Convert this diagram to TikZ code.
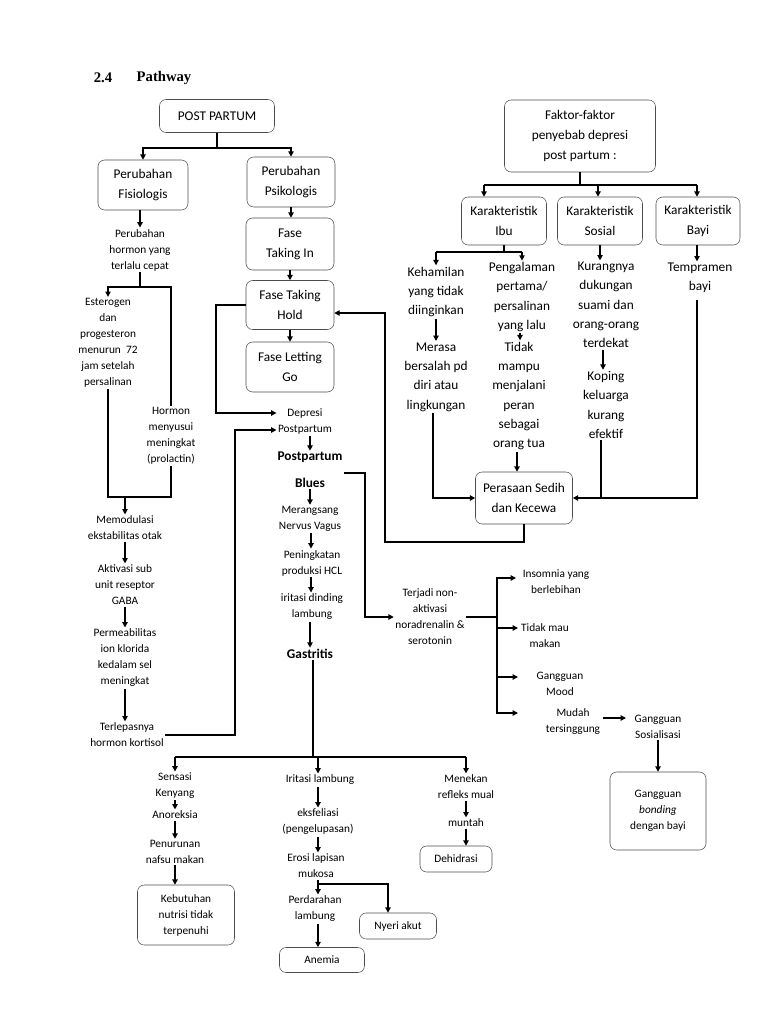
\documentclass[tikz,border=0pt]{standalone}
\usepackage{fontspec}
\setmainfont{Carlito}
\newfontfamily\tnr{Liberation Serif}
\usetikzlibrary{arrows.meta}
\begin{document}
\begin{tikzpicture}[x=0.75pt,y=-0.75pt,
  every node/.style={inner sep=1pt},
  box/.style={draw=black!70,rounded corners=5pt,align=center,font=\fontsize{10}{15}\selectfont},
  txt/.style={align=center,font=\fontsize{10}{14.5}\selectfont},
  sm/.style={align=center,font=\fontsize{8.5}{12}\selectfont},
  ln/.style={line width=0.9pt},
  ar/.style={line width=0.9pt,-{Triangle[length=4pt,width=4pt]}},
  vd/.style={ar,shorten >=1pt}]
\useasboundingbox (0,0) rectangle (768,1024);
\node[font=\tnr\bfseries\fontsize{11}{13}\selectfont] (t1) at (103,78) {2.4};
\node[font=\tnr\bfseries\fontsize{11}{13}\selectfont] (t2) at (164,78) {Pathway};
% left/top
\node[box,minimum width=115*0.75pt,minimum height=33*0.75pt] (pp) at (217,116) {POST PARTUM};
\node[box,minimum width=90*0.75pt,minimum height=50*0.75pt] (fis) at (143,185) {Perubahan\\Fisiologis};
\node[box,minimum width=88*0.75pt,minimum height=50*0.75pt] (psi) at (291,182) {Perubahan\\Psikologis};
\node[box,minimum width=88*0.75pt,minimum height=52*0.75pt] (tin) at (290,244) {Fase\\Taking In};
\node[box,minimum width=88*0.75pt,minimum height=49*0.75pt] (thold) at (290,305) {Fase Taking\\Hold};
\node[box,minimum width=88*0.75pt,minimum height=50*0.75pt] (tgo) at (290,367) {Fase Letting\\Go};
\coordinate (c1) at (217,148);
\draw[ln] (pp.south) -- (c1);
\draw[ar] (c1) -| (fis.north);
\draw[ar] (c1) -| (psi.north);
\draw[ar] (psi.south) -- (psi.south |- tin.north);
\draw[ar] (tin) -- (thold);
\draw[ar] (thold) -- (tgo);
\node[sm] (hor) at (140,250) {Perubahan\\hormon yang\\terlalu cepat};
\draw[ar] (140,210) -- (hor.north -| 140,0);
\node[sm] (est) at (108,343) {Esterogen\\dan\\progesteron\\menurun~ 72\\jam setelah\\persalinan};
\node[sm] (hm) at (171,436) {Hormon\\menyusui\\meningkat\\(prolactin)};
\coordinate (c2) at (140,287);
\draw[ln] (hor.south -| c2) -- (c2);
\draw[ar] (c2) -| (est.north);
\draw[ln] (c2) -| (hm.north);
\node[sm] (mod) at (125,528) {Memodulasi\\ekstabilitas otak};
\coordinate (c3) at (125,497);
\draw[ln] (est.south) |- (c3);
\draw[ln] (hm.south) |- (c3);
\draw[ar] (c3) -- (mod.north);
\node[sm] (akt) at (125,585) {Aktivasi sub\\unit reseptor\\GABA};
\node[sm] (perm) at (125,658) {Permeabilitas\\ion klorida\\kedalam sel\\meningkat};
\node[sm] (ter) at (127,735) {Terlepasnya\\hormon kortisol};
\draw[ar] (mod.south) -- (mod.south |- akt.north);
\draw[ar] (akt.south) -- (akt.south |- perm.north);
\draw[ar] (perm.south) -- (perm.south |- ter.north);
\node[sm] (dep) at (305,422) {Depresi\\Postpartum};
\coordinate (c4) at (235,430);
\draw[ar] (ter.east) -| (c4) -- (dep.west |- c4);
\coordinate (c5) at (216,413);
\draw[ar] (thold.west) -| (c5) -- (dep.west |- c5);
\node[txt,font=\bfseries\fontsize{10}{20}\selectfont] (blu) at (310,470) {Postpartum\\Blues};
\draw[ar] (dep.south -| 310,0) -- (blu.north -| 310,0);
\node[sm] (mer) at (310,519) {Merangsang\\Nervus Vagus};
\node[sm] (pen) at (312,563) {Peningkatan\\produksi HCL};
\node[sm] (iri) at (312,607) {iritasi dinding\\lambung};
\node[txt,font=\bfseries\fontsize{10}{15}\selectfont] (gas) at (310,654) {Gastritis};
\draw[ar] (blu.south -| 310,0) -- (mer.north -| 310,0);
\draw[ar] (mer.south -| 311,0) -- (pen.north -| 311,0);
\draw[ar] (pen.south -| 311,0) -- (iri.north -| 311,0);
\draw[ar] (iri.south -| 310,0) -- (gas.north -| 310,0);
% non-aktivasi
\node[sm] (non) at (430,617) {Terjadi non-\\aktivasi\\noradrenalin \&\\serotonin};
\coordinate (c6) at (365,473);
\draw[ar] (blu.east |- c6) -- (c6) |- (non.west);
\coordinate (c7) at (497,617);
\draw[ln] (non.east) -- (c7);
\node[sm] (ins) at (556,582) {Insomnia yang\\berlebihan};
\node[sm] (tmm) at (545,636) {Tidak mau\\makan};
\node[sm] (mood) at (560,684) {Gangguan\\Mood};
\node[sm] (mud) at (573,722) {Mudah\\tersinggung};
\node[sm] (sos) at (658,727) {Gangguan\\Sosialisasi};
\draw[ar] (c7) |- (516,578);
\draw[ar] (c7) |- (518,628);
\draw[ar] (497,677) -- (518,677);
\draw[ar] (c7) |- (518,713);
\draw[ar] (603,718) -- (626,718);
\node[box,font=\fontsize{8.5}{12}\selectfont,minimum width=96*0.75pt,minimum height=78*0.75pt] (bond) at (658,811) {Gangguan\\\textit{bonding}\\dengan bayi};
\draw[ar] (sos) -- (bond);
% gastritis branches
\coordinate (c8) at (313,757);
\draw[ln] (gas.south -| c8) -- (c8);
\node[sm] (sen) at (175,786) {Sensasi\\Kenyang};
\node[sm] (ano) at (175,815) {Anoreksia};
\node[sm] (nafsu) at (175,852) {Penurunan\\nafsu makan};
\node[box,font=\fontsize{8.5}{12}\selectfont,minimum width=97*0.75pt,minimum height=60*0.75pt] (keb) at (186,915) {Kebutuhan\\nutrisi tidak\\terpenuhi};
\node[sm] (ila) at (320,780) {Iritasi lambung};
\node[sm] (eks) at (318,822) {eksfeliasi\\(pengelupasan)};
\node[sm] (ero) at (316,866) {Erosi lapisan\\mukosa};
\node[sm] (per) at (315,909) {Perdarahan\\lambung};
\node[box,font=\fontsize{8.5}{12}\selectfont,minimum width=77*0.75pt,minimum height=26*0.75pt] (ny) at (398,926) {Nyeri akut};
\node[box,font=\fontsize{8.5}{12}\selectfont,minimum width=85*0.75pt,minimum height=25*0.75pt] (ane) at (322,960) {Anemia};
\node[sm] (mek) at (466,787) {Menekan\\refleks mual};
\node[sm] (mun) at (466,823) {muntah};
\node[box,font=\fontsize{8.5}{12}\selectfont,minimum width=72*0.75pt,minimum height=26*0.75pt] (deh) at (456,859) {Dehidrasi};
\draw[ln] (175,757) -- (466,757);
\draw[ar] (175,757) -- (sen.north -| 175,0);
\draw[ar] (318,757) -- (ila.north -| 318,0);
\draw[ar] (466,757) -- (mek.north -| 466,0);
\draw[ar] (sen.south -| 175,0) -- (ano.north -| 175,0);
\draw[ar] (ano.south -| 175,0) -- (nafsu.north -| 175,0);
\draw[ar] (nafsu.south -| 175,0) -- (keb.north -| 175,0);
\draw[ar] (ila.south -| 318,0) -- (eks.north -| 318,0);
\draw[ar] (eks.south -| 318,0) -- (ero.north -| 318,0);
\coordinate (c9) at (318,884);
\draw[ar] (ero.south -| c9) -- (per.north -| c9);
\draw[ar] (c9) -| (ny.north -| 388,0);
\draw[ar] (per.south -| 318,0) -- (ane.north -| 318,0);
\draw[ar] (mek.south -| 466,0) -- (mun.north -| 466,0);
\draw[ar] (mun.south -| 466,0) -- (deh.north -| 466,0);
% right side
\node[box,minimum width=151*0.75pt,minimum height=72*0.75pt] (fak) at (580,136) {Faktor-faktor\\penyebab depresi\\post partum :};
\node[box,minimum width=85*0.75pt,minimum height=48*0.75pt] (ibu) at (504,221) {Karakteristik\\Ibu};
\node[box,minimum width=85*0.75pt,minimum height=48*0.75pt] (sosi) at (600,221) {Karakteristik\\Sosial};
\node[box,minimum width=84*0.75pt,minimum height=48*0.75pt] (bayi) at (698,221) {Karakteristik\\Bayi};
\coordinate (c10) at (580,185);
\draw[ln] (fak.south) -- (c10);
\draw[ln] (484,185) -- (697,185);
\draw[ar] (484,185) -- (ibu.north -| 484,0);
\draw[ar] (598,185) -- (sosi.north -| 598,0);
\draw[ar] (697,185) -- (bayi.north -| 697,0);
\coordinate (c11) at (504,252);
\draw[ln] (ibu.south) -- (c11);
\draw[ln] (436,252) -- (522,252);
\node[txt] (keh) at (436,292) {Kehamilan\\yang tidak\\diinginkan};
\node[txt] (mera) at (436,377) {Merasa\\bersalah pd\\diri atau\\lingkungan};
\node[txt] (peng) at (522,297) {Pengalaman\\pertama/\\persalinan\\yang lalu};
\node[txt] (tid) at (519,396) {Tidak\\mampu\\menjalani\\peran\\sebagai\\orang tua};
\node[txt] (kur) at (606,305) {Kurangnya\\dukungan\\suami dan\\orang-orang\\terdekat};
\node[txt] (kop) at (606,405) {Koping\\keluarga\\kurang\\efektif};
\node[txt] (tem) at (700,278) {Tempramen\\bayi};
\draw[ar] (436,252) -- (keh.north -| 436,0);
\draw[ar] (522,252) -- (peng.north -| 522,0);
\draw[ar] (keh.south -| 436,0) -- (mera.north -| 436,0);
\draw[ar] (peng.south -| 520,0) -- (tid.north -| 520,0);
\draw[ar] (sosi.south -| 600,0) -- (kur.north -| 600,0);
\draw[ar] (kur.south -| 603,0) -- (kop.north -| 603,0);
\draw[ar] (bayi.south -| 697,0) -- (tem.north -| 697,0);
\node[box,minimum width=97*0.75pt,minimum height=52*0.75pt] (sed) at (524,498) {Perasaan Sedih\\dan Kecewa};
\draw[ar] (tid.south -| 517,0) -- (sed.north -| 517,0);
\draw[ar] (mera.south -| 433,0) |- (sed.west);
\coordinate (c12) at (601,497);
\draw[ln] (kop.south -| c12) -- (c12);
\draw[ar] (697,300) |- (sed.east);
\coordinate (c13) at (385,542);
\draw[ar] (sed.south) |- (c13) |- (thold.east |- 0,313);
\end{tikzpicture}
\end{document}
